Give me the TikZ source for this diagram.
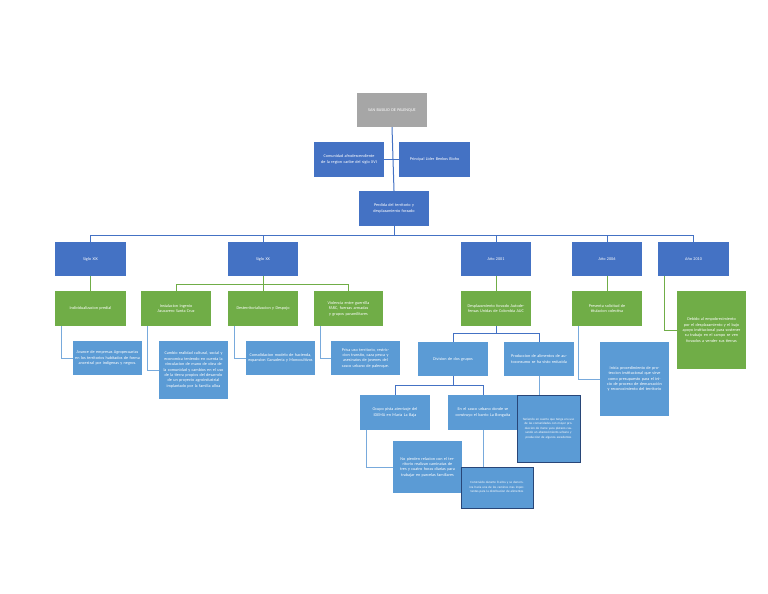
\documentclass[tikz,border=0pt]{standalone}
\usepackage{fontspec}
\setmainfont{Carlito}
\begin{document}
\begin{tikzpicture}[x=1pt,y=-1pt,
  base/.style={inner sep=1pt,align=center,text=white,font=\fontsize{4.2}{5.4}\selectfont},
  gr/.style={base,fill=gray!70},
  db/.style={base,fill={rgb,255:red,68;green,114;blue,196}},
  gn/.style={base,fill={rgb,255:red,112;green,173;blue,71}},
  lb/.style={base,fill={rgb,255:red,91;green,155;blue,213}},
  lbd/.style={lb,draw={rgb,255:red,40;green,70;blue,120},line width=0.6pt,font=\fontsize{3.2}{4.4}\selectfont},
  bl/.style={draw={rgb,255:red,68;green,114;blue,196},line width=1pt},
  gl/.style={draw={rgb,255:red,112;green,173;blue,71},line width=1pt},
  ll/.style={draw={rgb,255:red,120;green,170;blue,220},line width=1pt}]
\fill[white] (0,0) rectangle (768,594);
\newcommand\bx[7]{\node[#6,minimum width={(#4-#2)*1pt},minimum height={(#5-#3)*1pt},text width={(#4-#2-4)*1pt}] (#1) at ({(#2+#4)/2},{(#3+#5)/2}) {#7};}
\bx{sb}{357}{93}{427}{127}{gr}{SAN BASILIO DE PALENQUE}
\bx{com}{314}{142}{384}{177}{db}{Comunidad afrodescendiente de la region caribe del siglo XVI}
\bx{lid}{399}{142}{470}{177}{db}{Principal Lider Benkos Bioho}
\bx{per}{359}{191}{429}{226}{db}{Perdida del territorio y desplazamiento forzado}
\bx{s19}{55}{242}{126}{276}{db}{Siglo XIX}
\bx{s20}{228}{242}{298}{276}{db}{Siglo XX}
\bx{a01}{461}{242}{531}{276}{db}{Año 2001}
\bx{a06}{572}{242}{642}{276}{db}{Año 2006}
\bx{a10}{658}{242}{729}{276}{db}{Año 2010}
\bx{ind}{55}{291}{126}{326}{gn}{Individualizacion predial}
\bx{ins}{141}{291}{211}{326}{gn}{Instalacion Ingenio Azucarero Santa Cruz}
\bx{des}{228}{291}{298}{326}{gn}{Desterritorializacion y Despojo}
\bx{vio}{314}{291}{383}{326}{gn}{Violencia entre guerrilla FARC, fuerzas armadas y grupos paramilitares}
\bx{dfz}{461}{291}{531}{326}{gn}{Desplazamiento forzado Autodefensas Unidas de Colombia AUC}
\bx{pre}{572}{291}{642}{326}{gn}{Presenta solicitud de titulacion colectiva}
\bx{deb}{677}{291}{746}{369}{gn}{Debido al empobrecimiento por el desplazamiento y el bajo apoyo institucional para sostener su trabajo en el campo se ven forzados a vender sus tierras}
\bx{ava}{73}{341}{142}{375}{lb}{Avance de empresas Agropecuarias en los territorios habitados de forma ancestral por indigenas y negros.}
\bx{cam}{159}{341}{228}{399}{lb}{Cambio realidad cultural, social y economica teniendo en cuenta la vinculacion de mano de obra de la comunidad y cambios en el uso de la tierra propios del desarrolo de un proyecto agroindustrial implantado por la familia ulloa}
\bx{con}{246}{341}{315}{375}{lb}{Consolidacion modelo de hacienda, expansion Ganaderia y Monocultivos}
\bx{pri}{331}{341}{400}{375}{lb}{Priva uso territorio, restriccion transito, caza pesca y asesinatos de jovenes del casco urbano de palenque.}
\bx{ini}{600}{342}{669}{416}{lb}{Inicia procedimiento de proteccion institucional que sirve como presupuesto para el inicio de proceso de demarcación y reconocimiento del territorio}
\bx{div}{418}{342}{488}{376}{lb}{Division de dos grupos}
\bx{pro}{504}{342}{574}{376}{lb}{Produccion de alimentos de autoconsumo se ha visto reducida}
\bx{ocu}{360}{395}{430}{430}{lb}{Ocupo pista aterrizaje del IDEMA en Maria La Baja}
\bx{cas}{448}{395}{518}{430}{lb}{En el casco urbano donde se construyo el barrio La Bonguita}
\bx{ten}{517}{395}{580}{462}{lbd}{Teniendo en cuenta que tenga era uso de las comunidades con mayor produccion de ñame yuca platano causando un abastecimiento urbano y produccion de algunos excedentes}
\bx{noc}{393}{441}{462}{493}{lb}{No pierden relacion con el territorio realizan caminatas de tres y cuatro horas diarias para trabajar en parcelas familiares}
\bx{cns}{461}{467}{533}{508}{lbd}{Construido durante 8 años y se denomina hacia una de los caminos mas importantes para la distribucion de alimentos}
% connectors
\begin{scope}[on background layer/.style={}]
\draw[bl] (sb.south) -- (per.north);
\draw[bl] (com.east) -- (lid.west);
\draw[bl] (per.south) -- (per.south |- 0,235);
\draw[bl] (s19.north |- 0,235) -- (a10.north |- 0,235);
\foreach \n in {s19,s20,a01,a06,a10} \draw[bl] (\n.north) -- (\n.north |- 0,235);
\draw[gl] (s19.south) -- (ind.north);
\draw[gl] (a01.south) -- (dfz.north);
\draw[gl] (a06.south) -- (pre.north);
\draw[gl] (s20.south) -- (s20.south |- 0,284);
\draw[gl] (ins.north |- 0,284) -- (vio.north |- 0,284);
\foreach \n in {ins,des,vio} \draw[gl] (\n.north) -- (\n.north |- 0,284);
\draw[gl] ([xshift=7pt]a10.south west) |- (deb.west);
\draw[ll] ([xshift=7pt]ind.south west) |- (ava.west);
\draw[ll] ([xshift=7pt]ins.south west) |- (cam.west);
\draw[ll] ([xshift=7pt]des.south west) |- (con.west);
\draw[ll] ([xshift=7pt]vio.south west) |- (pri.west);
\draw[ll] ([xshift=7pt]pre.south west) |- (ini.west);
\draw[bl] (dfz.south) -- (dfz.south |- 0,333);
\draw[bl] (div.north |- 0,333) -- (pro.north |- 0,333);
\draw[bl] (div.north) -- (div.north |- 0,333);
\draw[bl] (pro.north) -- (pro.north |- 0,333);
\draw[bl] (div.south) -- (div.south |- 0,385);
\draw[bl] (ocu.north |- 0,385) -- (cas.north |- 0,385);
\draw[bl] (ocu.north) -- (ocu.north |- 0,385);
\draw[bl] (cas.north) -- (cas.north |- 0,385);
\draw[ll] ([xshift=7pt]ocu.south west) |- (noc.west);
\draw[ll] (cns.north -| cas.south) -- (cas.south);
\draw[ll] (ten.north -| pro.south) -- (pro.south);
\end{scope}
\end{tikzpicture}
\end{document}
